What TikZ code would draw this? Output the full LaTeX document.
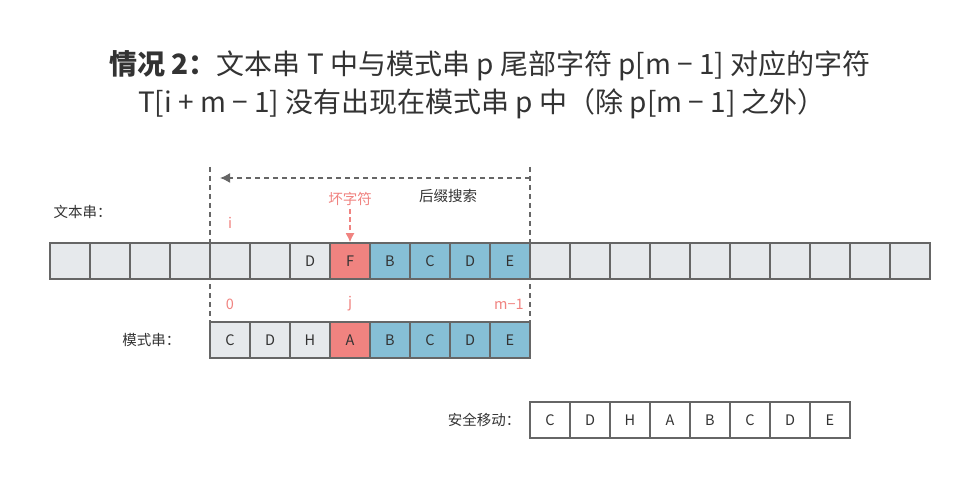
\documentclass[tikz,border=0pt]{standalone}
\usepackage{fontspec}
\usetikzlibrary{arrows.meta}
\setmainfont{Noto Sans CJK SC}
\definecolor{gcell}{HTML}{E6E9EC}
\definecolor{bcell}{HTML}{86BFD6}
\definecolor{rcell}{HTML}{F08380}
\definecolor{bord}{HTML}{666666}
\definecolor{txt}{HTML}{333333}
\begin{document}
\begin{tikzpicture}[x=1pt,y=-1pt,
 cell/.style={draw=bord,line width=1.5pt,minimum width=40pt,minimum height=36pt,inner sep=0,font=\fontsize{14.5}{14.5}\selectfont,text=txt},
 lab/.style={font=\fontsize{14.5}{14.5}\selectfont,text=txt},
 rlab/.style={font=\fontsize{14.5}{14.5}\selectfont,text=rcell},
 dsh/.style={draw=bord,line width=1.5pt,dash pattern=on 5pt off 4pt}]
\useasboundingbox (0,0) rectangle (980,481);
\node[font=\fontsize{28}{28}\selectfont,text=txt] (t1) at (490,66) {\textbf{情况 2：}文本串 T 中与模式串 p 尾部字符 p[m − 1] 对应的字符};
\node[font=\fontsize{28}{28}\selectfont,text=txt] (t2) at (482,104) {T[i + m − 1] 没有出现在模式串 p 中（除 p[m − 1] 之外）};
% text row
\foreach \i in {0,...,21} {
  \pgfmathsetmacro\cx{70+40*\i}
  \node[cell,fill=gcell] (s\i) at (\cx,261) {};
}
\foreach \i/\c/\f in {6/D/gcell,7/F/rcell,8/B/bcell,9/C/bcell,10/D/bcell,11/E/bcell}{
  \pgfmathsetmacro\cx{70+40*\i}
  \node[cell,fill=\f] (s\i) at (\cx,261) {\c};
}
% pattern
\foreach \i/\c/\f in {0/C/gcell,1/D/gcell,2/H/gcell,3/A/rcell,4/B/bcell,5/C/bcell,6/D/bcell,7/E/bcell}{
  \pgfmathsetmacro\cx{230+40*\i}
  \node[cell,fill=\f] (p\i) at (\cx,340) {\c};
}
% safe move
\foreach \i/\c in {0/C,1/D,2/H,3/A,4/B,5/C,6/D,7/E}{
  \pgfmathsetmacro\cx{550+40*\i}
  \node[cell,fill=white] (m\i) at (\cx,420) {\c};
}
\node[lab,anchor=west] (l1) at (50,212) {文本串：};
\node[lab,anchor=east] (l2) at (184,340) {模式串：};
\node[lab,anchor=east] (l3) at (524,420) {安全移动：};
\node[lab] (l4) at (448,196) {后缀搜索};
\node[rlab] (bad) at (350,199) {坏字符};
\node[rlab] (li) at (230,223) {i};
\node[rlab] (l0) at (230,304) {0};
\node[rlab] (lj) at (350,304) {j};
\node[rlab] (lm) at (509,304) {m−1};
\coordinate (a1) at (210,167);
\coordinate (a2) at (210,322);
\coordinate (b1) at (530,167);
\coordinate (b2) at (530,322);
\coordinate (c1) at (530,178);
\coordinate (c2) at (220,178);
\draw[dsh] (a1) -- (a2);
\draw[dsh] (b1) -- (b2);
\draw[dsh,-{Latex[length=10pt,width=10pt]}] (c1) -- (c2);
\draw[draw=rcell,line width=1.5pt,dash pattern=on 5pt off 3pt,-{Latex[length=9pt,width=9pt]}] (bad.south) -- (s7.north);
\end{tikzpicture}
\end{document}
